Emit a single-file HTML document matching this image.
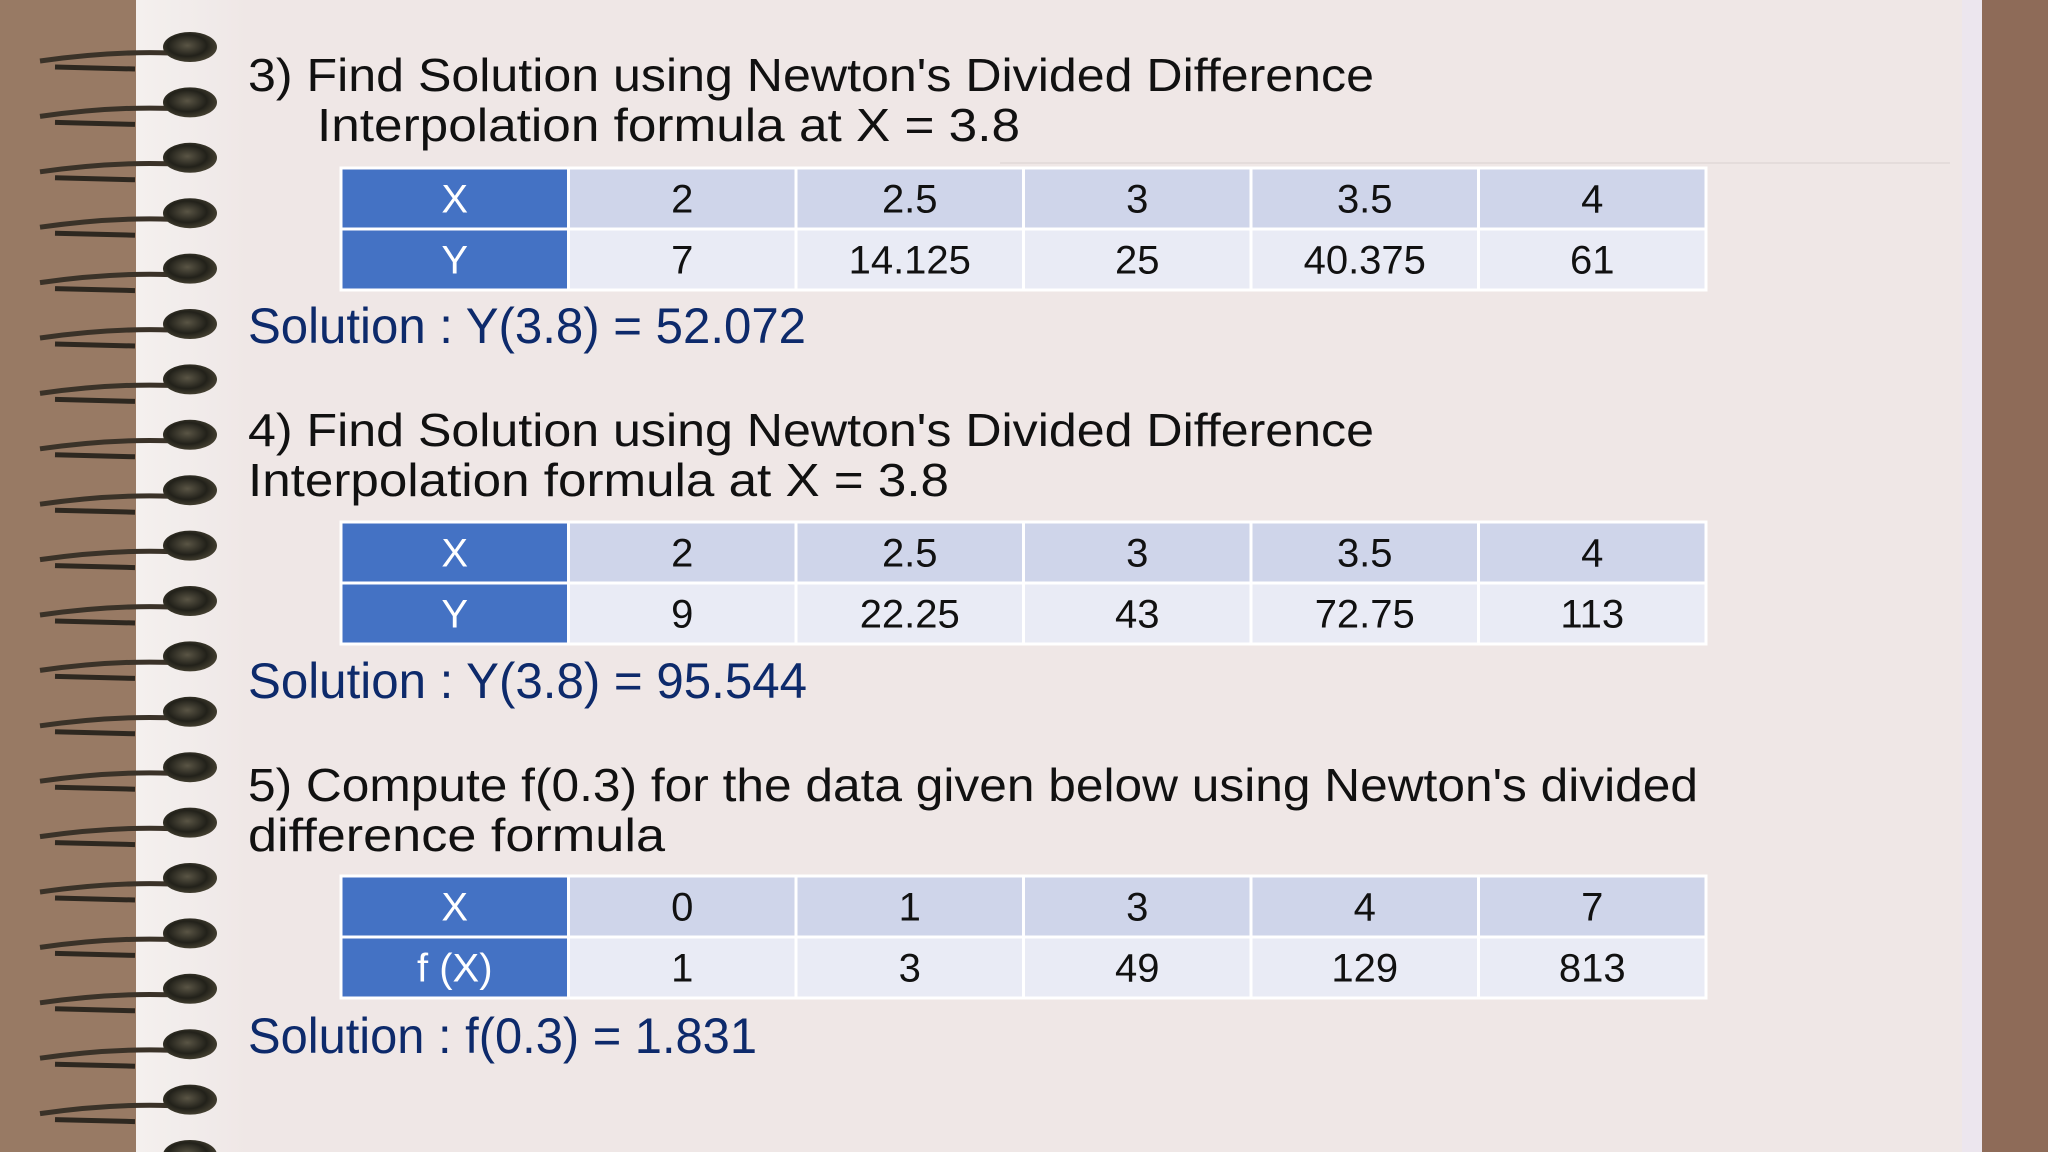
<!DOCTYPE html>
<html><head><meta charset="utf-8"><style>
html,body{margin:0;padding:0;width:2048px;height:1152px;overflow:hidden;background:#efe7e6}
svg{display:block}
text{font-family:"Liberation Sans","DejaVu Sans",sans-serif}
</style></head><body>
<svg id="s" width="2048" height="1152" viewBox="0 0 2048 1152">
<defs>
<radialGradient id="ring" cx="45%" cy="45%" r="60%"><stop offset="0" stop-color="#5a5545"/><stop offset="0.6" stop-color="#22211a"/><stop offset="1" stop-color="#4a4535"/></radialGradient>
<linearGradient id="margin" x1="0" x2="1" y1="0" y2="0"><stop offset="0" stop-color="#f4f0ee"/><stop offset="0.6" stop-color="#f1ebea"/><stop offset="1" stop-color="#efe7e6"/></linearGradient>
</defs>
<rect x="0" y="0" width="2048" height="1152" fill="#efe7e6"/>
<rect x="0" y="0" width="136" height="1152" fill="#987a64"/>
<rect x="136" y="0" width="110" height="1152" fill="url(#margin)"/>
<rect x="1962" y="0" width="20" height="1152" fill="#ece6ee"/>
<rect x="1982" y="0" width="66" height="1152" fill="#8e6b58"/>
<line x1="1000" y1="163" x2="1950" y2="163" stroke="#e4dcdb" stroke-width="2"/>
<g id="rings"></g>

<g>
<text x="248" y="91" font-size="46" fill="#111" textLength="1126" lengthAdjust="spacingAndGlyphs">3) Find Solution using Newton's Divided Difference</text>
<text x="317" y="141" font-size="46" fill="#111" textLength="703" lengthAdjust="spacingAndGlyphs">Interpolation formula at X = 3.8</text>
<g id="t1"></g>
<text x="248" y="343" font-size="50" fill="#0d2a6b" textLength="558" lengthAdjust="spacingAndGlyphs">Solution : Y(3.8) = 52.072</text>
</g>

<g>
<text x="248" y="446" font-size="46" fill="#111" textLength="1126" lengthAdjust="spacingAndGlyphs">4) Find Solution using Newton's Divided Difference</text>
<text x="248" y="496" font-size="46" fill="#111" textLength="701" lengthAdjust="spacingAndGlyphs">Interpolation formula at X = 3.8</text>
<g id="t2"></g>
<text x="248" y="698" font-size="50" fill="#0d2a6b" textLength="559" lengthAdjust="spacingAndGlyphs">Solution : Y(3.8) = 95.544</text>
</g>

<g>
<text x="248" y="801" font-size="46" fill="#111" textLength="1450" lengthAdjust="spacingAndGlyphs">5) Compute f(0.3) for the data given below using Newton's divided</text>
<text x="248" y="851" font-size="46" fill="#111" textLength="417" lengthAdjust="spacingAndGlyphs">difference formula</text>
<g id="t3"></g>
<text x="248" y="1053" font-size="50" fill="#0d2a6b" textLength="509" lengthAdjust="spacingAndGlyphs">Solution : f(0.3) = 1.831</text>
</g>
</svg>
<script>
const t1x=["2","2.5","3","3.5","4"];
const t1y=["7","14.125","25","40.375","61"];
const t2x=["2","2.5","3","3.5","4"];
const t2y=["9","22.25","43","72.75","113"];
const t3x=["0","1","3","4","7"];
const t3y=["1","3","49","129","813"];
const NS="http://www.w3.org/2000/svg";
function mk(tag,attrs,parent){const e=document.createElementNS(NS,tag);for(const k in attrs)e.setAttribute(k,attrs[k]);parent.appendChild(e);return e;}
function table(id,top,lab1,lab2,xs,ys){
  const g=document.getElementById(id);
  const left=341,cw=227.5,rh=61;
  const rows=[[lab1].concat(xs),[lab2].concat(ys)];
  rows.forEach((r,ri)=>{
    r.forEach((v,ci)=>{
      const fill=ci===0?"#4472c4":(ri===0?"#cfd5ea":"#e9ebf5");
      const rc=mk("rect",{x:left+ci*cw,y:top+ri*rh,width:cw,height:rh,fill:fill,stroke:"#ffffff","stroke-width":3},g);
      
      
      const t=mk("text",{x:left+ci*cw+cw/2,y:top+ri*rh+rh/2+14,"text-anchor":"middle","font-size":40,fill:ci===0?"#ffffff":"#111"},g);
      
      
      t.textContent=v;
    });
  });
}
table("t1",168,"X","Y",t1x,t1y);
table("t2",522,"X","Y",t2x,t2y);
table("t3",876,"X","f (X)",t3x,t3y);
const rg=document.getElementById("rings");
for(let i=0;i<21;i++){
  const y=47+i*55.4;
  const w=mk("path",{d:`M40 ${y+14} Q110 ${y+4} 170 ${y+6}`,stroke:"#3a3228","stroke-width":5,fill:"none"},rg);
  
  
  const w2=mk("path",{d:`M55 ${y+20} L135 ${y+22}`,stroke:"#2e2820","stroke-width":5,fill:"none"},rg);
  
  
  const e=mk("ellipse",{cx:190,cy:y,rx:27,ry:15,fill:"url(#ring)"},rg);
  
  
}
</script>
</body></html>
